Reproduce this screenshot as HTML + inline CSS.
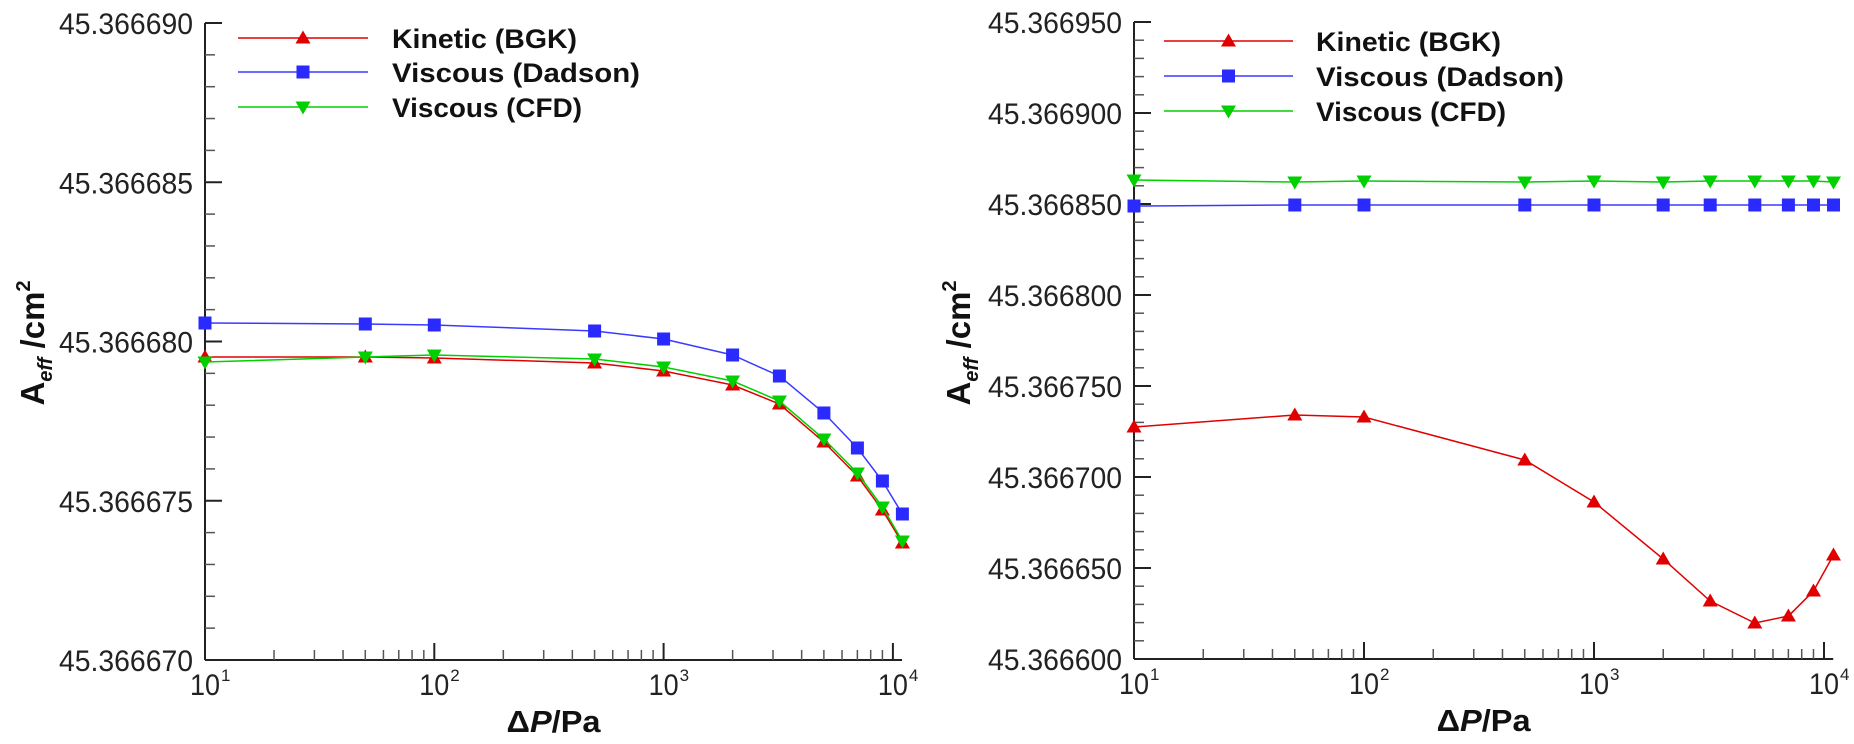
<!DOCTYPE html>
<html><head><meta charset="utf-8"><style>
html,body{margin:0;padding:0;background:#fff;}
svg{display:block;font-family:"Liberation Sans",Arial,sans-serif;}
</style></head><body>
<svg id="s" width="1854" height="744" viewBox="0 0 1854 744" xmlns="http://www.w3.org/2000/svg">
<defs>
<symbol id="tu" viewBox="-8 -8 16 16" overflow="visible"><polygon points="0,-7.5 7.5,5.5 -7.5,5.5" fill="#e00000"/></symbol>
<symbol id="td" viewBox="-8 -8 16 16" overflow="visible"><polygon points="0,7.5 7.5,-5.5 -7.5,-5.5" fill="#00d000"/></symbol>
<symbol id="sq" viewBox="-8 -8 16 16" overflow="visible"><rect x="-6.5" y="-6.5" width="13" height="13" fill="#2a2aff"/></symbol>
</defs>
<g id="g"></g>
</svg>
<script>
(function(){
var g=document.getElementById('g'),h='';
function lg(v){return Math.log(v)/Math.LN10;}
var P=[10,50,100,500,1000,2000,3200,5000,7000,9000,11000];
function axes(x0,dec,yT,yB,labels,minorPer){
  var xEnd=x0+dec*3.04;
  h+='<line x1="'+x0+'" y1="'+yT+'" x2="'+x0+'" y2="'+yB+'" stroke="#222" stroke-width="2"/>';
  h+='<line x1="'+x0+'" y1="'+yB+'" x2="'+xEnd+'" y2="'+yB+'" stroke="#222" stroke-width="2"/>';
  var n=labels.length-1,step=(yB-yT)/n;
  for(var i=0;i<=n;i++){var y=yT+i*step;
    h+='<line x1="'+x0+'" y1="'+y+'" x2="'+(x0+17)+'" y2="'+y+'" stroke="#222" stroke-width="2"/>';
    h+='<text x="'+(x0-12)+'" y="'+(y+11)+'" font-size="30" text-anchor="end" textLength="134" lengthAdjust="spacingAndGlyphs" fill="#222">'+labels[i]+'</text>';
    if(i<n)for(var k=1;k<minorPer;k++){var ym=y+k*step/minorPer;
      h+='<line x1="'+x0+'" y1="'+ym+'" x2="'+(x0+10)+'" y2="'+ym+'" stroke="#555" stroke-width="1.5"/>';}
  }
  for(var d=0;d<4;d++){var xx=x0+d*dec;
    h+='<line x1="'+xx+'" y1="'+yB+'" x2="'+xx+'" y2="'+(yB-17)+'" stroke="#222" stroke-width="2"/>';
    h+='<text x="'+(xx-15)+'" y="'+(yB+35)+'" font-size="30" textLength="30" lengthAdjust="spacingAndGlyphs" fill="#222">10</text>';
    h+='<text x="'+(xx+16)+'" y="'+(yB+21)+'" font-size="17" fill="#222">'+(d+1)+'</text>';
    if(d<3)for(var m=2;m<=9;m++){var xm=xx+dec*lg(m);
      h+='<line x1="'+xm+'" y1="'+yB+'" x2="'+xm+'" y2="'+(yB-10)+'" stroke="#555" stroke-width="1.5"/>';}
  }
  var cx=x0+dec*1.52;
  h+='<text x="'+cx+'" y="'+(yB+72)+'" font-size="31" font-weight="bold" text-anchor="middle" textLength="94" lengthAdjust="spacingAndGlyphs" fill="#111">&#916;<tspan font-style="italic">P</tspan>/Pa</text>';
}
function series(x0,dec,ys,col,mk){
  var pts=[];for(var i=0;i<P.length;i++)pts.push((x0+dec*lg(P[i]/10)).toFixed(1)+','+ys[i]);
  h+='<polyline points="'+pts.join(' ')+'" fill="none" stroke="'+col+'" stroke-width="1.5"/>';
  for(var i=0;i<P.length;i++){var p=pts[i].split(',');
    h+='<use href="#'+mk+'" x="'+(p[0]-8)+'" y="'+(p[1]-8)+'" width="16" height="16"/>';}
}
function legend(x1,x2,xt,rows){
  var it=[['#e00000','tu','Kinetic (BGK)',185],['#3a3aff','sq','Viscous (Dadson)',248],['#00d000','td','Viscous (CFD)',190]];
  for(var i=0;i<3;i++){var y=rows[i];
    h+='<line x1="'+x1+'" y1="'+y+'" x2="'+x2+'" y2="'+y+'" stroke="'+it[i][0]+'" stroke-width="1.6"/>';
    h+='<use href="#'+it[i][1]+'" x="'+((x1+x2)/2-8)+'" y="'+(y-8)+'" width="16" height="16"/>';
    h+='<text x="'+xt+'" y="'+(y+10)+'" font-size="27" font-weight="bold" textLength="'+it[i][3]+'" lengthAdjust="spacingAndGlyphs" fill="#111">'+it[i][2]+'</text>';}
}
function ytitle(x,y){
  h+='<text transform="translate('+x+','+y+') rotate(-90)" font-size="33" font-weight="bold" text-anchor="middle" fill="#111">A<tspan font-size="20" font-style="italic" dy="8">eff</tspan><tspan dy="-8"> /cm</tspan><tspan font-size="20" dy="-14">2</tspan></text>';
}
// left
axes(205,229.3,23,660,['45.366690','45.366685','45.366680','45.366675','45.366670'],5);
series(205,229.3,[323,324,325,331,339,355,376,413,448,481,514],'#3a3aff','sq');
series(205,229.3,[357,357,358,363,371,385,404,442,476,510,543],'#e00000','tu');
series(205,229.3,[362,357,355,359,367,381,401,439,473,507,541],'#00d000','td');
legend(238,368,392,[38,72,107]);
ytitle(44,343);
// right
axes(1134,230,22,659,['45.366950','45.366900','45.366850','45.366800','45.366750','45.366700','45.366650','45.366600'],5);
series(1134,230,[206,205,205,205,205,205,205,205,205,205,205],'#3a3aff','sq');
series(1134,230,[180,182,181,182,181,182,181,181,181,181,182],'#00d000','td');
series(1134,230,[427,415,417,460,502,559,601,623,616,591,555],'#e00000','tu');
legend(1164,1293,1316,[41,76,111]);
ytitle(970,343);
g.innerHTML=h;
})();
</script>
</body></html>
